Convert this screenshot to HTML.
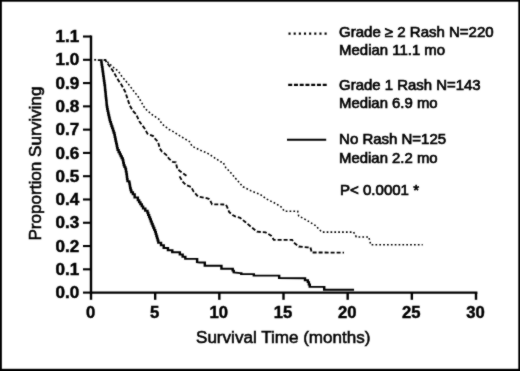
<!DOCTYPE html>
<html><head><meta charset="utf-8"><style>
html,body{margin:0;padding:0;background:#fff;}
svg{display:block;}
.tb{font-family:"Liberation Sans", Arial, Helvetica, sans-serif;font-weight:bold;font-size:16px;fill:#000;stroke:#000;stroke-width:0.45px;}
.tn{font-family:"Liberation Sans", Arial, Helvetica, sans-serif;font-size:17.2px;fill:#000;stroke:#000;stroke-width:0.55px;}
.tl{font-family:"Liberation Sans", Arial, Helvetica, sans-serif;font-size:14.4px;fill:#000;stroke:#000;stroke-width:0.65px;}
</style></head><body>
<svg width="520" height="371" viewBox="0 0 520 371">
<defs><filter id="soft" x="0" y="0" width="520" height="371" filterUnits="userSpaceOnUse" color-interpolation-filters="sRGB"><feConvolveMatrix order="3" kernelMatrix="1 2 1 2 20 2 1 2 1" edgeMode="duplicate"/></filter></defs>
<g filter="url(#soft)">
<rect x="0" y="0" width="520" height="371" fill="#000"/>
<rect x="1.85" y="1.7" width="516.45" height="367.1" fill="#fff"/>
<line x1="91" y1="35.4" x2="91" y2="293.6" stroke="#000" stroke-width="2.4"/>
<line x1="89.9" y1="292.6" x2="477.4" y2="292.6" stroke="#000" stroke-width="2.1"/>
<line x1="83" y1="292.60" x2="91" y2="292.60" stroke="#000" stroke-width="2.1"/>
<line x1="83" y1="269.32" x2="91" y2="269.32" stroke="#000" stroke-width="2.1"/>
<line x1="83" y1="246.04" x2="91" y2="246.04" stroke="#000" stroke-width="2.1"/>
<line x1="83" y1="222.76" x2="91" y2="222.76" stroke="#000" stroke-width="2.1"/>
<line x1="83" y1="199.48" x2="91" y2="199.48" stroke="#000" stroke-width="2.1"/>
<line x1="83" y1="176.20" x2="91" y2="176.20" stroke="#000" stroke-width="2.1"/>
<line x1="83" y1="152.92" x2="91" y2="152.92" stroke="#000" stroke-width="2.1"/>
<line x1="83" y1="129.64" x2="91" y2="129.64" stroke="#000" stroke-width="2.1"/>
<line x1="83" y1="106.36" x2="91" y2="106.36" stroke="#000" stroke-width="2.1"/>
<line x1="83" y1="83.08" x2="91" y2="83.08" stroke="#000" stroke-width="2.1"/>
<line x1="83" y1="59.80" x2="91" y2="59.80" stroke="#000" stroke-width="2.1"/>
<line x1="83" y1="36.52" x2="91" y2="36.52" stroke="#000" stroke-width="2.1"/>
<line x1="91.00" y1="292.6" x2="91.00" y2="299.8" stroke="#000" stroke-width="2.4"/>
<line x1="155.17" y1="292.6" x2="155.17" y2="299.8" stroke="#000" stroke-width="2.4"/>
<line x1="219.33" y1="292.6" x2="219.33" y2="299.8" stroke="#000" stroke-width="2.4"/>
<line x1="283.50" y1="292.6" x2="283.50" y2="299.8" stroke="#000" stroke-width="2.4"/>
<line x1="347.67" y1="292.6" x2="347.67" y2="299.8" stroke="#000" stroke-width="2.4"/>
<line x1="411.84" y1="292.6" x2="411.84" y2="299.8" stroke="#000" stroke-width="2.4"/>
<line x1="476.00" y1="292.6" x2="476.00" y2="299.8" stroke="#000" stroke-width="2.4"/>
<text transform="translate(79.3,298.20) scale(1.07,1)" text-anchor="end" class="tb">0.0</text>
<text transform="translate(79.3,274.92) scale(1.07,1)" text-anchor="end" class="tb">0.1</text>
<text transform="translate(79.3,251.64) scale(1.07,1)" text-anchor="end" class="tb">0.2</text>
<text transform="translate(79.3,228.36) scale(1.07,1)" text-anchor="end" class="tb">0.3</text>
<text transform="translate(79.3,205.08) scale(1.07,1)" text-anchor="end" class="tb">0.4</text>
<text transform="translate(79.3,181.80) scale(1.07,1)" text-anchor="end" class="tb">0.5</text>
<text transform="translate(79.3,158.52) scale(1.07,1)" text-anchor="end" class="tb">0.6</text>
<text transform="translate(79.3,135.24) scale(1.07,1)" text-anchor="end" class="tb">0.7</text>
<text transform="translate(79.3,111.96) scale(1.07,1)" text-anchor="end" class="tb">0.8</text>
<text transform="translate(79.3,88.68) scale(1.07,1)" text-anchor="end" class="tb">0.9</text>
<text transform="translate(79.3,65.40) scale(1.07,1)" text-anchor="end" class="tb">1.0</text>
<text transform="translate(79.3,42.12) scale(1.07,1)" text-anchor="end" class="tb">1.1</text>
<text transform="translate(90.50,317.6) scale(1.04,1)" text-anchor="middle" class="tb">0</text>
<text transform="translate(154.67,317.6) scale(1.04,1)" text-anchor="middle" class="tb">5</text>
<text transform="translate(218.83,317.6) scale(1.04,1)" text-anchor="middle" class="tb">10</text>
<text transform="translate(283.00,317.6) scale(1.04,1)" text-anchor="middle" class="tb">15</text>
<text transform="translate(347.17,317.6) scale(1.04,1)" text-anchor="middle" class="tb">20</text>
<text transform="translate(411.34,317.6) scale(1.04,1)" text-anchor="middle" class="tb">25</text>
<text transform="translate(475.50,317.6) scale(1.04,1)" text-anchor="middle" class="tb">30</text>
<text x="196" y="342.6" class="tn" textLength="174.5" lengthAdjust="spacingAndGlyphs">Survival Time (months)</text>
<text transform="translate(41.3,240.6) rotate(-90)" x="0" y="0" class="tn" textLength="154" lengthAdjust="spacingAndGlyphs">Proportion Surviving</text>
<polyline transform="scale(1.28,1)" points="76.4,60.1 78.9,60.1 79.2,60.1 79.2,62.4 79.4,62.4 79.4,64.7 79.7,64.7 79.7,67.0 80.0,67.0 80.0,69.3 80.2,69.3 80.2,71.5 80.5,71.5 80.5,73.8 80.7,73.8 80.7,76.1 81.0,76.1 81.0,78.4 81.2,78.4 81.2,80.8 81.5,80.8 81.5,83.0 81.7,83.0 81.7,85.3 82.0,85.3 82.0,87.6 82.1,87.6 82.1,89.8 82.3,89.8 82.3,91.9 82.5,91.9 82.5,94.0 82.6,94.0 82.6,96.2 82.8,96.2 82.8,98.3 83.0,98.3 83.0,100.4 83.2,100.4 83.2,102.6 83.3,102.6 83.3,104.7 83.5,104.7 83.5,106.8 83.8,106.8 83.8,109.0 84.1,109.0 84.1,111.1 84.5,111.1 84.5,113.2 84.8,113.2 84.8,115.3 85.2,115.3 85.2,117.5 85.6,117.5 85.6,119.7 86.0,119.7 86.0,121.9 86.6,121.9 86.6,124.1 87.1,124.1 87.1,126.3 87.7,126.3 87.7,128.4 88.3,128.4 88.3,130.6 88.8,130.6 88.8,132.8 89.4,132.8 89.4,134.9 89.7,134.9 89.7,137.1 90.1,137.1 90.1,139.3 90.4,139.3 90.4,141.4 90.8,141.4 90.8,143.6 91.2,143.6 91.2,145.7 91.5,145.7 91.5,147.9 91.9,147.9 91.9,150.0 92.7,150.0 92.7,152.2 93.6,152.2 93.6,154.3 94.3,154.3 94.3,156.3 95.1,156.3 95.1,158.3 95.9,158.3 95.9,160.3 96.3,160.3 96.3,162.8 96.7,162.8 96.7,165.2 97.3,165.2 97.3,167.1 98.0,167.1 98.0,168.9 98.4,168.9 98.4,171.6 98.8,171.6 98.8,174.3 99.1,174.3 99.1,176.7 99.3,176.7 99.3,179.0 99.6,179.0 99.6,181.3 100.9,181.3 100.9,182.4 101.2,182.4 101.2,184.4 101.5,184.4 101.5,186.4 101.7,186.4 101.7,188.3 102.1,188.3 102.1,190.2 102.6,190.2 102.6,192.2 103.8,192.2 103.8,194.3 105.2,194.3 105.2,197.5 107.7,197.5 107.7,200.2 108.7,200.2 108.7,202.2 109.7,202.2 109.7,204.3 110.8,204.3 110.8,206.4 111.8,206.4 111.8,208.5 113.5,208.5 113.5,210.7 115.2,210.7 115.2,212.8 115.8,212.8 115.8,215.0 116.5,215.0 116.5,217.2 117.2,217.2 117.2,219.3 117.8,219.3 117.8,221.5 118.5,221.5 118.5,223.7 119.2,223.7 119.2,225.7 119.8,225.7 119.8,227.8 120.5,227.8 120.5,229.9 121.2,229.9 121.2,231.9 121.7,231.9 121.7,234.1 122.2,234.1 122.2,236.2 122.7,236.2 122.7,238.4 123.2,238.4 123.2,240.5 123.7,240.5 123.7,242.7 125.8,242.7 125.8,245.3 127.9,245.3 127.9,248.0 131.2,248.0 131.2,250.2 134.6,250.2 134.6,252.3 140.5,252.3 140.5,254.5 142.7,254.5 142.7,256.7 144.8,256.7 144.8,258.9 154.0,258.9 154.0,262.1 156.2,262.5 160.0,262.5 160.0,265.8 172.0,265.8 173.0,265.8 173.0,268.7 181.0,268.7 181.8,268.7 181.8,270.6 182.6,270.6 182.6,272.5 187.8,273.1 188.5,273.1 188.5,274.1 196.8,274.1 198.3,274.1 198.3,275.6 217.1,275.6 218.1,275.6 218.1,278.1 236.8,278.2 238.3,278.2 238.3,280.2 240.5,280.2 240.5,282.1 241.3,282.1 241.3,284.5 242.0,284.5 242.0,286.9 251.8,286.9 253.3,286.9 253.3,289.8 276.6,289.8" fill="none" stroke="#000" stroke-width="1.9" stroke-linejoin="miter"/>
<polyline points="103.6,59.8 105.4,60.2 109.2,65.8 112.4,70.1 116.2,76.6 118.3,80.3 121.0,84.1 123.2,87.9 125.4,92.2 127.3,98.1 129.7,105.4 132.9,111.0 136.2,114.3 139.4,121.6 144.3,128.0 147.5,133.7 153.2,136.1 155.4,139.2 158.1,141.9 159.7,148.3 161.9,151.6 166.2,154.8 168.9,158.6 172.6,161.8 175.8,162.3 176.8,166.7 177.3,169.0 179.8,170.9 187.9,176.9" fill="none" stroke="#000" stroke-width="1.85" stroke-dasharray="4 2"/>
<polyline points="179.6,176.4 182.5,181.6 185.9,185.0 191.3,187.0 193.3,191.1 198.0,196.5 205.0,197.8 208.8,198.8 210.0,200.0 212.0,204.3 223.4,204.5 226.0,204.7 227.4,207.7 229.1,212.0 232.6,215.1 235.6,216.6 240.2,217.9 245.3,222.0 251.7,227.4 257.1,231.7 265.7,232.4 271.1,235.6 273.8,239.8 292.1,239.8 294.0,242.7 298.8,246.5 307.4,247.3 310.4,247.3 311.7,252.5 344.0,252.6" fill="none" stroke="#000" stroke-width="1.85" stroke-dasharray="4 2"/>
<polyline points="104.4,59.8 105.9,59.9 108.1,62.5 114.0,67.9 118.3,71.2 121.6,76.0 124.8,79.8 128.0,83.6 131.3,87.9 134.5,92.2 137.6,95.6 141.8,102.9 145.1,108.6 151.6,114.3 158.8,119.1 162.1,124.0 169.0,129.5 174.0,132.0 179.5,135.7 189.4,141.5 192.1,146.2 200.2,150.2 207.0,152.9 212.3,156.3 220.4,161.7 223.1,162.3 225.8,167.7 228.9,170.8 230.0,171.8 235.5,178.3 243.0,186.8 250.6,190.6 256.0,192.9 260.0,194.3 266.6,199.1 274.2,202.8 280.8,206.6 284.5,211.3 297.7,211.3 298.7,216.0 305.6,219.6 315.2,225.4 321.9,232.1 353.6,232.1 356.3,236.9 368.8,236.9 370.8,244.8 422.7,244.8" fill="none" stroke="#000" stroke-width="1.55" stroke-dasharray="1.7 2.15"/>
<line x1="94.2" y1="59.8" x2="96.1" y2="59.8" stroke="#000" stroke-width="1.75"/>
<line x1="288.5" y1="33.6" x2="327.5" y2="33.6" stroke="#000" stroke-width="2.1" stroke-dasharray="2.1 3.05"/>
<line x1="288.2" y1="84.8" x2="327.3" y2="84.8" stroke="#000" stroke-width="2.3" stroke-dasharray="4 1.75"/>
<line x1="287" y1="139.8" x2="326.2" y2="139.8" stroke="#000" stroke-width="1.9"/>
<text x="339.1" y="36.6" class="tl" textLength="154.5" lengthAdjust="spacingAndGlyphs">Grade ≥ 2 Rash N=220</text>
<text x="339.1" y="55.0" class="tl" textLength="106" lengthAdjust="spacingAndGlyphs">Median 11.1 mo</text>
<text x="339.1" y="90.0" class="tl" textLength="141.5" lengthAdjust="spacingAndGlyphs">Grade 1 Rash N=143</text>
<text x="339.1" y="108.4" class="tl" textLength="98.5" lengthAdjust="spacingAndGlyphs">Median 6.9 mo</text>
<text x="339.1" y="144.3" class="tl" textLength="107" lengthAdjust="spacingAndGlyphs">No Rash N=125</text>
<text x="339.1" y="162.6" class="tl" textLength="98.5" lengthAdjust="spacingAndGlyphs">Median 2.2 mo</text>
<text x="340" y="194.6" class="tl" textLength="79" lengthAdjust="spacingAndGlyphs">P&lt; 0.0001 *</text>
</g>
</svg>
</body></html>
